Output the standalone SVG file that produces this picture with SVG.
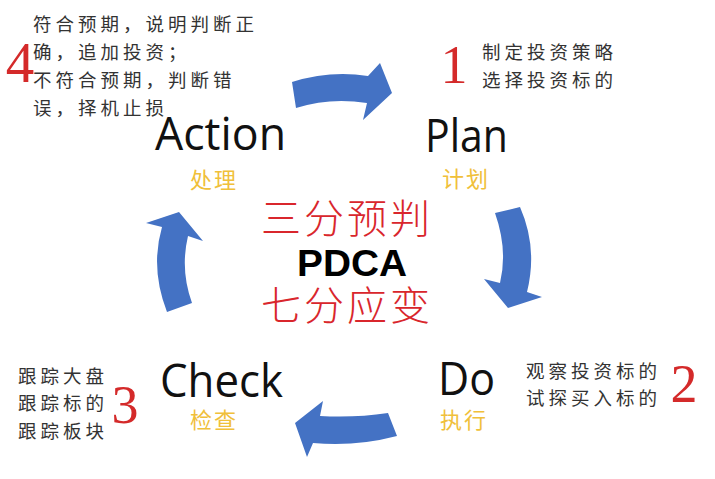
<svg xmlns="http://www.w3.org/2000/svg" width="715" height="479" viewBox="0 0 715 479">
<style>
.big{font-family:"Open Sans","Noto Sans",sans-serif;font-size:45px;fill:#111}
.cn{font-family:"Noto Sans CJK SC",sans-serif;font-size:22px;fill:#F0C03A;letter-spacing:2px}
.note{font-family:"Noto Sans CJK SC",sans-serif;font-size:18.5px;fill:#333;letter-spacing:4px}
.num{font-family:"Liberation Serif",serif;fill:#D42A2A;text-anchor:middle}
.red{font-family:"Noto Sans CJK SC",sans-serif;font-weight:300;font-size:40px;fill:#D9262C;letter-spacing:3px}
.arrow{fill:#4472C4}
</style>
<rect width="715" height="479" fill="#fff"/>
<g id="connectors">
<path class="arrow" d="M292,82 Q330,70 368,76 L380,63 L392,93 L363,120 L367,103 Q330,97 296,108 Z"/>
<path class="arrow" d="M495,213 L520,207 Q538,248 527,292 L542,297 L508,308 L484,279 L500,283 Q508,250 495,213 Z"/>
<path class="arrow" d="M388,413 Q355,418 320,416 L323,401 L295,423 L307,457 L313,443 Q355,447 397,436 Z"/>
<path class="arrow" d="M167,312 Q150,268 162,227 L146,223 L179,212 L203,241 L188,236 Q180,270 192,303 Z"/>
</g>
<g id="plan">
<text class="big" x="425" y="152" textLength="83" lengthAdjust="spacingAndGlyphs">Plan</text>
<text class="cn" x="442" y="187">计划</text>
</g>
<g id="do">
<text class="big" x="438" y="395" textLength="57" lengthAdjust="spacingAndGlyphs">Do</text>
<text class="cn" x="440" y="428">执行</text>
</g>
<g id="check">
<text class="big" x="160" y="397" textLength="123" lengthAdjust="spacingAndGlyphs">Check</text>
<text class="cn" x="190" y="428">检查</text>
</g>
<g id="action">
<text class="big" x="155" y="150" textLength="131" lengthAdjust="spacingAndGlyphs">Action</text>
<text class="cn" x="190" y="188">处理</text>
</g>
<g id="center">
<text class="red" x="261" y="233">三分预判</text>
<text x="297" y="276" font-family="Liberation Sans,Arial,sans-serif" font-weight="bold" font-size="36" fill="#000" textLength="110" lengthAdjust="spacingAndGlyphs">PDCA</text>
<text class="red" x="261" y="320">七分应变</text>
</g>
<g id="note-plan">
<text class="num" x="454" y="83" font-size="54">1</text>
<text class="note" x="482" y="59">制定投资策略</text>
<text class="note" x="482" y="87">选择投资标的</text>
</g>
<g id="note-do">
<text class="num" x="684" y="402" font-size="54">2</text>
<text class="note" x="526" y="378">观察投资标的</text>
<text class="note" x="526" y="405">试探买入标的</text>
</g>
<g id="note-check">
<text class="num" x="125" y="423" font-size="54">3</text>
<text class="note" x="18" y="383">跟踪大盘</text>
<text class="note" x="18" y="410">跟踪标的</text>
<text class="note" x="18" y="438">跟踪板块</text>
</g>
<g id="note-action">
<text class="num" x="20" y="82" font-size="57">4</text>
<text class="note" x="33" y="31">符合预期，说明判断正</text>
<text class="note" x="33" y="59">确，追加投资；</text>
<text class="note" x="33" y="87">不符合预期，判断错</text>
<text class="note" x="33" y="115">误，择机止损</text>
</g>
</svg>
